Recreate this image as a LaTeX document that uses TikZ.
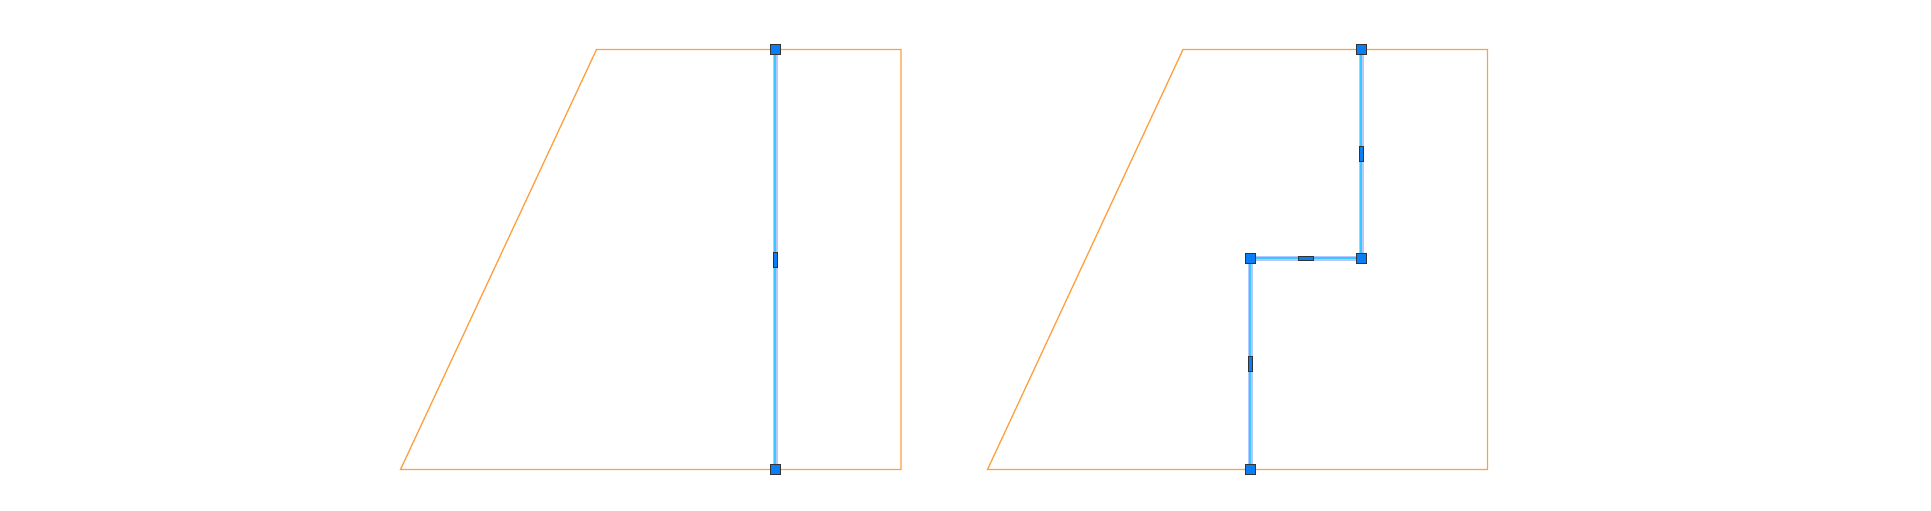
\documentclass[tikz,border=0pt]{standalone}
\usetikzlibrary{calc}
\begin{document}
\definecolor{shapeorange}{HTML}{FFA040}
\definecolor{wirecore}{HTML}{38C8FF}
\definecolor{wirehalo}{HTML}{B8C8FF}
\definecolor{handlefill}{HTML}{0A7FF5}
\definecolor{handleline}{HTML}{333333}
\begin{tikzpicture}[x=1pt,y=-1pt,
  outline/.style={draw=shapeorange,line width=1.3pt,line join=miter},
  wirehalo/.style={draw=wirehalo,line width=5.5pt},
  wirecore/.style={draw=wirecore,line width=2pt},
  corner/.style={draw=handleline,fill=handlefill,line width=0.9pt,inner sep=0pt,minimum width=10pt,minimum height=10pt,rectangle},
  vmid/.style={draw=handleline,fill=handlefill,line width=0.9pt,inner sep=0pt,minimum width=4.5pt,minimum height=15pt,rectangle},
  hmid/.style={draw=handleline,fill=handlefill,line width=0.9pt,inner sep=0pt,minimum width=15pt,minimum height=4.5pt,rectangle}]
\useasboundingbox (0,0) rectangle (1931,511);
% left figure
\draw[outline] (596.5,49.5) -- (901,49.5) -- (901,469.5) -- (400.5,469.5) -- cycle;
\coordinate (a1) at (775.3,49.5);
\coordinate (a2) at (775.3,469.5);
\draw[wirehalo] (a1) -- (a2);
\draw[wirecore] (a1) -- (a2);
\node[corner] (A1) at (a1) {};
\node[corner] (A2) at (a2) {};
\node[vmid] (AM) at ($(a1)!0.5!(a2)$) {};
% right figure
\draw[outline] (1183,49.5) -- (1487.5,49.5) -- (1487.5,469.5) -- (987.5,469.5) -- cycle;
\coordinate (b1) at (1361.3,49.5);
\coordinate (b2) at (1361.3,258.3);
\coordinate (b3) at (1250.3,258.3);
\coordinate (b4) at (1250.3,469.5);
\draw[wirehalo] (b1) -- (b2) -- (b3) -- (b4);
\draw[wirecore] (b1) -- (b2) -- (b3) -- (b4);
\node[corner] (B1) at (b1) {};
\node[corner] (B2) at (b2) {};
\node[corner] (B3) at (b3) {};
\node[corner] (B4) at (b4) {};
\node[vmid] (BM1) at ($(b1)!0.5!(b2)$) {};
\node[hmid] (BM2) at ($(b2)!0.5!(b3)$) {};
\node[vmid] (BM3) at ($(b3)!0.5!(b4)$) {};
\end{tikzpicture}
\end{document}
